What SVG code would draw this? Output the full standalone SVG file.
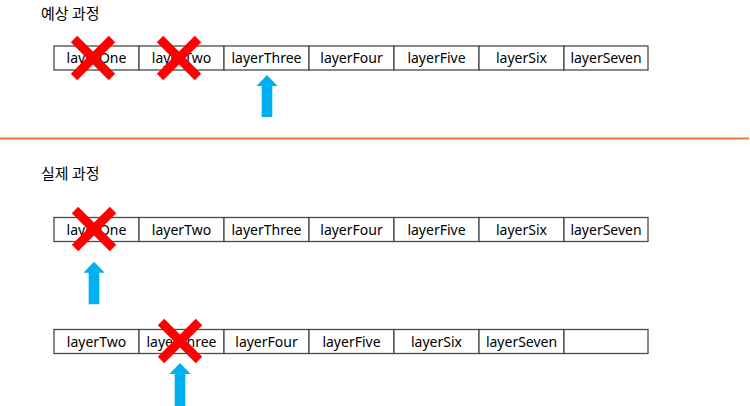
<svg xmlns="http://www.w3.org/2000/svg" width="750" height="406" viewBox="0 0 750 406">
<style>
.cell{fill:#ffffff;stroke:#4a4a4a;stroke-width:1.3}
.lbl{font-family:"Noto Sans","Open Sans","Liberation Sans",sans-serif;font-size:14px;fill:#000;text-anchor:middle}
.title{font-family:"Noto Sans CJK KR","Noto Sans",sans-serif;font-size:15px;fill:#000}
.x{stroke:#ff0000;stroke-width:9;stroke-linecap:butt}
.arrow{fill:#00b0f0}
</style>
<rect width="750" height="406" fill="#ffffff"/>
<text class="title" x="41" y="19">예상 과정</text>
<text class="title" x="41" y="179">실제 과정</text>
<line x1="0" y1="138.5" x2="749" y2="138.5" stroke="#ed7d31" stroke-width="2"/>
<g id="row1">
<g id="r1c1"><rect class="cell" x="54" y="46" width="85" height="24"/><text class="lbl" x="96.5" y="63">layerOne</text></g>
<g id="r1c2"><rect class="cell" x="139" y="46" width="85" height="24"/><text class="lbl" x="181.5" y="63">layerTwo</text></g>
<g id="r1c3"><rect class="cell" x="224" y="46" width="85" height="24"/><text class="lbl" x="266.5" y="63">layerThree</text></g>
<g id="r1c4"><rect class="cell" x="309" y="46" width="85" height="24"/><text class="lbl" x="351.5" y="63">layerFour</text></g>
<g id="r1c5"><rect class="cell" x="394" y="46" width="85" height="24"/><text class="lbl" x="436.5" y="63">layerFive</text></g>
<g id="r1c6"><rect class="cell" x="479" y="46" width="85" height="24"/><text class="lbl" x="521.5" y="63">layerSix</text></g>
<g id="r1c7"><rect class="cell" x="564" y="46" width="84" height="24"/><text class="lbl" x="606" y="63">layerSeven</text></g>
</g>
<g id="row2">
<g id="r2c1"><rect class="cell" x="54" y="217.5" width="85" height="24"/><text class="lbl" x="96.5" y="234.5">layerOne</text></g>
<g id="r2c2"><rect class="cell" x="139" y="217.5" width="85" height="24"/><text class="lbl" x="181.5" y="234.5">layerTwo</text></g>
<g id="r2c3"><rect class="cell" x="224" y="217.5" width="85" height="24"/><text class="lbl" x="266.5" y="234.5">layerThree</text></g>
<g id="r2c4"><rect class="cell" x="309" y="217.5" width="85" height="24"/><text class="lbl" x="351.5" y="234.5">layerFour</text></g>
<g id="r2c5"><rect class="cell" x="394" y="217.5" width="85" height="24"/><text class="lbl" x="436.5" y="234.5">layerFive</text></g>
<g id="r2c6"><rect class="cell" x="479" y="217.5" width="85" height="24"/><text class="lbl" x="521.5" y="234.5">layerSix</text></g>
<g id="r2c7"><rect class="cell" x="564" y="217.5" width="84" height="24"/><text class="lbl" x="606" y="234.5">layerSeven</text></g>
</g>
<g id="row3">
<g id="r3c1"><rect class="cell" x="54" y="329.5" width="85" height="24"/><text class="lbl" x="96.5" y="346.5">layerTwo</text></g>
<g id="r3c2"><rect class="cell" x="139" y="329.5" width="85" height="24"/><text class="lbl" x="181.5" y="346.5">layerThree</text></g>
<g id="r3c3"><rect class="cell" x="224" y="329.5" width="85" height="24"/><text class="lbl" x="266.5" y="346.5">layerFour</text></g>
<g id="r3c4"><rect class="cell" x="309" y="329.5" width="85" height="24"/><text class="lbl" x="351.5" y="346.5">layerFive</text></g>
<g id="r3c5"><rect class="cell" x="394" y="329.5" width="85" height="24"/><text class="lbl" x="436.5" y="346.5">layerSix</text></g>
<g id="r3c6"><rect class="cell" x="479" y="329.5" width="85" height="24"/><text class="lbl" x="521.5" y="346.5">layerSeven</text></g>
<g id="r3c7"><rect class="cell" x="564" y="329.5" width="84" height="24"/></g>
</g>
<g id="marks">
<g id="x1"><line class="x" x1="74" y1="39" x2="112" y2="77"/><line class="x" x1="112" y1="39" x2="74" y2="77"/></g>
<g id="x2"><line class="x" x1="160" y1="39" x2="198" y2="77"/><line class="x" x1="198" y1="39" x2="160" y2="77"/></g>
<g id="x3"><line class="x" x1="75" y1="210" x2="113" y2="248"/><line class="x" x1="113" y1="210" x2="75" y2="248"/></g>
<g id="x4"><line class="x" x1="161" y1="322" x2="199" y2="360"/><line class="x" x1="199" y1="322" x2="161" y2="360"/></g>
</g>
<g id="connectors">
<polygon class="arrow" points="267,75 277.5,86 272.3,86 272.3,117 261.7,117 261.7,86 256.5,86"/>
<polygon class="arrow" points="94,261.7 104.7,272.7 99.3,272.7 99.3,304.3 88.7,304.3 88.7,272.7 83.3,272.7"/>
<polygon class="arrow" points="180,363 190.7,374 185.3,374 185.3,406 174.7,406 174.7,374 169.3,374"/>
</g>
</svg>
